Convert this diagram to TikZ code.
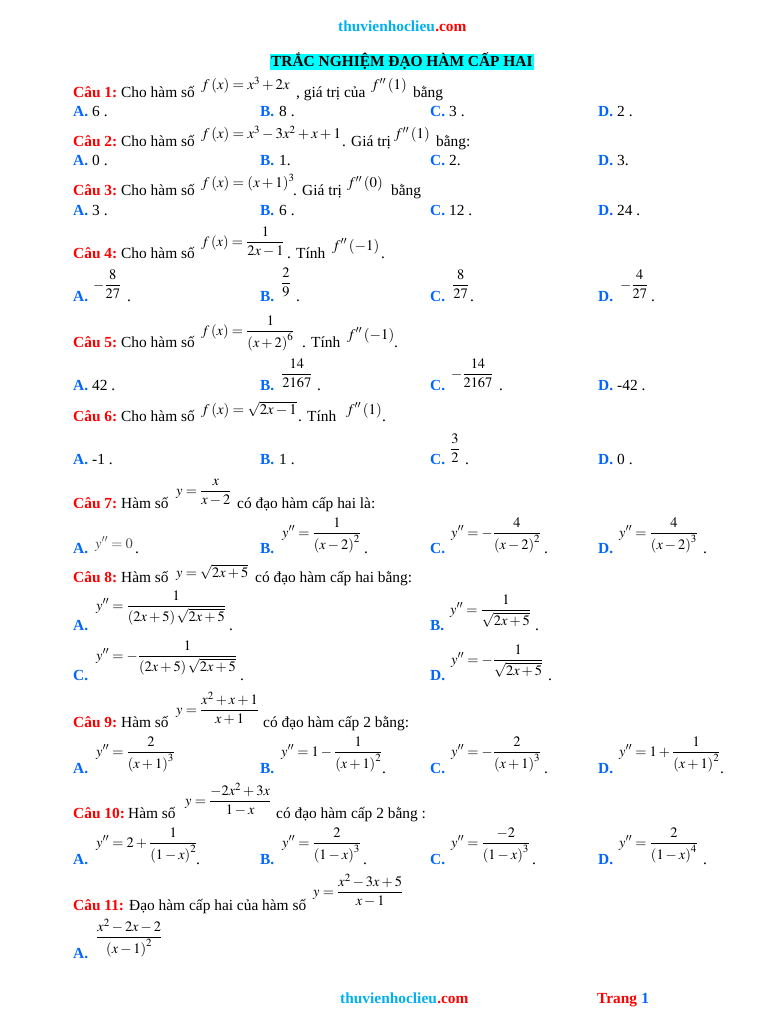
\documentclass[tikz,border=0pt]{standalone}
\usepackage{amsmath}
\usepackage{mathptmx}
\usepackage{fontspec}
\setmainfont{Liberation Serif}
\usepackage{tikz}
\definecolor{siteblue}{HTML}{00B0F0}
\definecolor{optblue}{HTML}{0066FF}
\definecolor{titlecyan}{HTML}{00FFFF}
\tikzset{
    txt/.style={inner sep=0pt, anchor=base west, yshift=-0.8pt, font=\fontsize{15.4}{18}\selectfont},
    qlab/.style={txt, text=red, font=\fontsize{15.4}{18}\selectfont\bfseries},
    optlab/.style={txt, text=optblue, font=\fontsize{15.4}{18}\selectfont\bfseries},
    fml/.style={inner sep=0pt, anchor=base west, font=\fontsize{14.4}{17}\selectfont},
    bigfml/.style={fml, font=\fontsize{14.8}{18}\selectfont},
}

\begin{document}
\begin{tikzpicture}[x=1pt, y=-1pt]
    \useasboundingbox (0, 0) rectangle (768, 1024);
    % header
    \node[qlab, text=siteblue] (top1) at (338, 31) {thuvienhoclieu};
    \node[qlab, anchor=base west, yshift=0.8pt] (top2) at (top1.base east) {.com};
    \fill[titlecyan] (270, 54) rectangle (534, 70);
    \node[txt, font=\fontsize{15.4}{18}\selectfont\bfseries] (title) at (271, 66) {TRẮC NGHIỆM ĐẠO HÀM CẤP HAI};
    % question 1
    \node[qlab] (q1) at (73, 97) {Câu 1:};
    \node[txt] (q1a) at (121, 97) {Cho hàm số};
    \node[bigfml] (q1f) at (201, 90) {$f\left(x\right)=x^3+2x$};
    \node[txt] (q1b) at (296, 97) {, giá trị của};
    \node[bigfml] (q1g) at (371, 90) {$f''\left(1\right)$};
    \node[txt] (q1c) at (413, 97) {bằng};
    % question 2
    \node[qlab] (q2) at (73, 146) {Câu 2:};
    \node[txt] (q2a) at (121, 146) {Cho hàm số};
    \node[bigfml] (q2f) at (201, 139) {$f\left(x\right)=x^3-3x^2+x+1$};
    \node[txt] (q2b) at (342, 146) {. Giá trị};
    \node[bigfml] (q2g) at (394, 139) {$f''\left(1\right)$};
    \node[txt] (q2c) at (436, 146) {bằng:};
    % question 3
    \node[qlab] (q3) at (73, 195) {Câu 3:};
    \node[txt] (q3a) at (121, 195) {Cho hàm số};
    \node[bigfml] (q3f) at (201, 188) {$f\left(x\right)=\left(x+1\right)^3$};
    \node[txt] (q3b) at (293, 195) {. Giá trị};
    \node[bigfml] (q3g) at (347, 188) {$f''\left(0\right)$};
    \node[txt] (q3c) at (391, 195) {bằng};
    % question 4
    \node[qlab] (q4) at (73, 258) {Câu 4:};
    \node[txt] (q4a) at (121, 258) {Cho hàm số};
    \node[fml] (q4f) at (201, 246) {$f\left(x\right)=\dfrac{1}{2x-1}$};
    \node[txt] (q4b) at (287, 258) {. Tính};
    \node[bigfml] (q4g) at (332, 250) {$f''\left(-1\right)$};
    \node[txt] (q4c) at (381, 258) {.};
    % question 5
    \node[qlab] (q5) at (73, 347) {Câu 5:};
    \node[txt] (q5a) at (121, 347) {Cho hàm số};
    \node[fml] (q5f) at (201, 335) {$f\left(x\right)=\dfrac{1}{\left(x+2\right)^6}$};
    \node[txt] (q5b) at (302, 347) {. Tính};
    \node[bigfml] (q5g) at (347, 339) {$f''\left(-1\right)$};
    \node[txt] (q5c) at (394, 347) {.};
    % question 6
    \node[qlab] (q6) at (73, 421) {Câu 6:};
    \node[txt] (q6a) at (121, 421) {Cho hàm số};
    \node[bigfml] (q6f) at (201, 414) {$f\left(x\right)=\sqrt{2x-1}$};
    \node[txt] (q6b) at (298, 421) {. Tính};
    \node[bigfml] (q6g) at (346, 414) {$f''\left(1\right)$};
    \node[txt] (q6c) at (382, 421) {.};
    % question 7
    \node[qlab] (q7) at (73, 508) {Câu 7:};
    \node[txt] (q7a) at (121, 508) {Hàm số};
    \node[fml] (q7f) at (176, 495) {$y=\dfrac{x}{x-2}$};
    \node[txt] (q7b) at (237, 508) {có đạo hàm cấp hai là:};
    % question 8
    \node[qlab] (q8) at (73, 582) {Câu 8:};
    \node[txt] (q8a) at (121, 582) {Hàm số};
    \node[fml] (q8f) at (176, 577) {$y=\sqrt{2x+5}$};
    \node[txt] (q8b) at (255, 582) {có đạo hàm cấp hai bằng:};
    % question 9
    \node[qlab] (q9) at (73, 727) {Câu 9:};
    \node[txt] (q9a) at (121, 727) {Hàm số};
    \node[fml] (q9f) at (176, 714) {$y=\dfrac{x^2+x+1}{x+1}$};
    \node[txt] (q9b) at (263, 727) {có đạo hàm cấp 2 bằng:};
    % question 10
    \node[qlab] (q10) at (73, 818) {Câu 10:};
    \node[txt] (q10a) at (128, 818) {Hàm số};
    \node[fml] (q10f) at (185, 805) {$y=\dfrac{-2x^2+3x}{1-x}$};
    \node[txt] (q10b) at (276, 818) {có đạo hàm cấp 2 bằng :};
    % question 11
    \node[qlab] (q11) at (73, 910) {Câu 11:};
    \node[txt] (q11a) at (129, 910) {Đạo hàm cấp hai của hàm số};
    \node[fml] (q11f) at (313, 896) {$y=\dfrac{x^2-3x+5}{x-1}$};
    % option letters, by row
    \foreach \ypos/\row in {116/a, 165/b, 215/c, 301/d, 390/e, 464/f, 553/g, 773/h, 864/i} {
        \node[optlab] (opt\row A) at (73, \ypos) {A.};
        \node[optlab] (opt\row B) at (260, \ypos) {B.};
        \node[optlab] (opt\row C) at (430, \ypos) {C.};
        \node[optlab] (opt\row D) at (598, \ypos) {D.};
    }
    \node[optlab] (optjA) at (73, 630) {A.};
    \node[optlab] (optjB) at (430, 630) {B.};
    \node[optlab] (optkC) at (73, 680) {C.};
    \node[optlab] (optkD) at (430, 680) {D.};
    \node[optlab] (optlA) at (73, 958) {A.};
    % plain answers
    \foreach \xpos/\ypos/\val [count=\i] in {92/116/6 ., 279/116/8 ., 449/116/3 ., 617/116/2 .,
        92/165/0 ., 279/165/1., 449/165/2., 617/165/3.,
        92/215/3 ., 279/215/6 ., 449/215/12 ., 617/215/24 .,
        92/390/42 ., 617/390/-42 .,
        92/464/-1 ., 279/464/1 ., 617/464/0 .} {
        \node[txt] (ans\i) at (\xpos, \ypos) {\val};
    }
    % fractions of questions 4 to 6
    \node[fml] (a4a) at (93, 289) {$-\dfrac{8}{27}$};
    \node[txt] (d4a) at (127, 301) {.};
    \node[fml] (a4b) at (281, 287) {$\dfrac{2}{9}$};
    \node[txt] (d4b) at (296, 301) {.};
    \node[fml] (a4c) at (452, 289) {$\dfrac{8}{27}$};
    \node[txt] (d4c) at (470, 301) {.};
    \node[fml] (a4d) at (620, 289) {$-\dfrac{4}{27}$};
    \node[txt] (d4d) at (651, 301) {.};
    \node[fml] (a5b) at (281, 378) {$\dfrac{14}{2167}$};
    \node[txt] (d5b) at (317, 390) {.};
    \node[fml] (a5c) at (451, 378) {$-\dfrac{14}{2167}$};
    \node[txt] (d5c) at (499, 390) {.};
    \node[fml] (a6c) at (450, 453) {$\dfrac{3}{2}$};
    \node[txt] (d6c) at (465, 464) {.};
    % answers of question 7
    \node[fml, text=black!70] (a7a) at (95, 548) {$y''=0$};
    \node[txt] (d7a) at (135, 553) {.};
    \node[fml] (a7b) at (282, 537) {$y''=\dfrac{1}{\left(x-2\right)^2}$};
    \node[txt] (d7b) at (364, 553) {.};
    \node[fml] (a7c) at (451, 537) {$y''=-\dfrac{4}{\left(x-2\right)^2}$};
    \node[txt] (d7c) at (544, 553) {.};
    \node[fml] (a7d) at (619, 537) {$y''=\dfrac{4}{\left(x-2\right)^3}$};
    \node[txt] (d7d) at (703, 553) {.};
    % answers of question 8
    \node[fml] (a8a) at (96, 610) {$y''=\dfrac{1}{\left(2x+5\right)\sqrt{2x+5}}$};
    \node[txt] (d8a) at (229, 630) {.};
    \node[fml] (a8b) at (450, 614) {$y''=\dfrac{1}{\sqrt{2x+5}}$};
    \node[txt] (d8b) at (535, 630) {.};
    \node[fml] (a8c) at (96, 660) {$y''=-\dfrac{1}{\left(2x+5\right)\sqrt{2x+5}}$};
    \node[txt] (d8c) at (240, 680) {.};
    \node[fml] (a8d) at (451, 664) {$y''=-\dfrac{1}{\sqrt{2x+5}}$};
    \node[txt] (d8d) at (548, 680) {.};
    % answers of question 9
    \node[fml] (a9a) at (96, 756) {$y''=\dfrac{2}{\left(x+1\right)^3}$};
    \node[fml] (a9b) at (281, 756) {$y''=1-\dfrac{1}{\left(x+1\right)^2}$};
    \node[txt] (d9b) at (382, 773) {.};
    \node[fml] (a9c) at (451, 756) {$y''=-\dfrac{2}{\left(x+1\right)^3}$};
    \node[txt] (d9c) at (544, 773) {.};
    \node[fml] (a9d) at (619, 756) {$y''=1+\dfrac{1}{\left(x+1\right)^2}$};
    \node[txt] (d9d) at (720, 773) {.};
    % answers of question 10
    \node[fml] (a10a) at (96, 847) {$y''=2+\dfrac{1}{\left(1-x\right)^2}$};
    \node[txt] (d10a) at (196, 864) {.};
    \node[fml] (a10b) at (282, 847) {$y''=\dfrac{2}{\left(1-x\right)^3}$};
    \node[txt] (d10b) at (363, 864) {.};
    \node[fml] (a10c) at (451, 847) {$y''=\dfrac{-2}{\left(1-x\right)^3}$};
    \node[txt] (d10c) at (532, 864) {.};
    \node[fml] (a10d) at (619, 847) {$y''=\dfrac{2}{\left(1-x\right)^4}$};
    \node[txt] (d10d) at (703, 864) {.};
    % answer of question 11
    \node[fml] (a11a) at (96, 941) {$\dfrac{x^2-2x-2}{\left(x-1\right)^2}$};
    % footer
    \node[qlab, text=siteblue] (foot1) at (340, 1003) {thuvienhoclieu};
    \node[qlab, anchor=base west, yshift=0.8pt] (foot2) at (foot1.base east) {.com};
    \node[qlab] (page) at (597, 1003) {Trang};
    \node[qlab, text=optblue, anchor=base west, yshift=0.8pt] (pagenum) at ([xshift=3.8pt]page.base east) {1};
\end{tikzpicture}
\end{document}
